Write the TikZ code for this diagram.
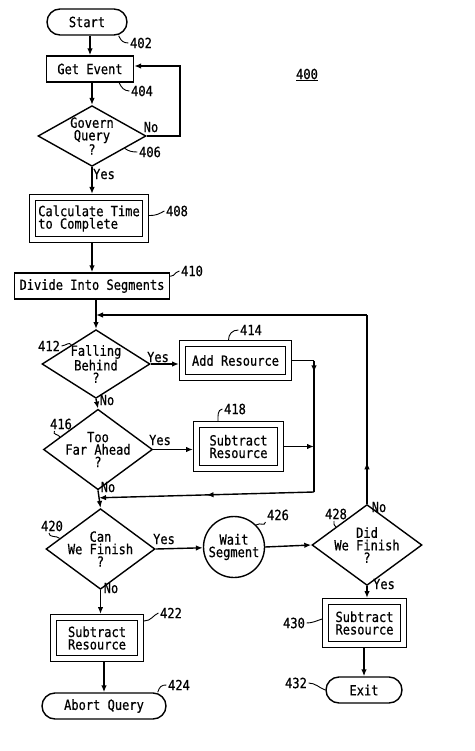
\documentclass[tikz,border=0pt]{standalone}
\usepackage{fontspec}
\setmonofont[FakeStretch=0.86,FakeBold=0.6]{DejaVu Sans Mono}
\usetikzlibrary{shapes.geometric,arrows.meta,decorations.markings,calc}
\begin{document}
\begin{tikzpicture}[x=1pt,y=-1pt, line width=1.4pt,
  every node/.style={font=\ttfamily\fontsize{14}{12.5}\selectfont},
  term/.style={draw, rectangle, rounded corners=13pt, minimum height=26pt, inner sep=0pt},
  box/.style={draw, rectangle, minimum height=26pt, inner sep=0pt},
  dbox/.style={draw, rectangle, double, double distance=5pt, line width=1.2pt, outer sep=3.7pt, inner sep=0pt, align=center},
  dec/.style={draw, diamond, inner sep=-5pt, align=center},
  circ/.style={draw, circle, inner sep=0pt, align=center},
  lbl/.style={inner sep=1pt},
  lead/.style={line width=0.9pt},
  arr/.style={-{Latex[length=7pt,width=5.5pt]}},
  midarrow/.style={postaction={decorate}, decoration={markings, mark=at position #1 with {\arrow{Latex[length=7pt,width=5.5pt]}}}}
]
\useasboundingbox (0,0) rectangle (474,751);

% main nodes
\node[term, minimum width=80pt] (start) at (87,22) {Start};
\node[box, minimum width=87pt] (get) at (90,69) {Get Event};
\node[dec, minimum width=108pt, minimum height=60pt] (govern) at (92,136) {Govern\\Query\\?};
\node[dbox, align=left, minimum width=112.6pt, minimum height=41.6pt] (calc) at (89,218.5) {Calculate Time\\to Complete};
\node[box, minimum width=155pt] (divide) at (92,286) {Divide Into Segments};
\node[dec, minimum width=108pt, minimum height=59pt] (falling) at (96,364) {Falling\\Behind\\?};
\node[dbox, minimum width=105.6pt, minimum height=33.6pt] (add) at (235.5,360.5) {Add Resource};
\node[dec, minimum width=109pt, minimum height=63pt] (toofar) at (98,449.5) {Too\\Far Ahead\\?};
\node[dbox, minimum width=83.6pt, minimum height=43.6pt] (sub418) at (238.5,446.5) {Subtract\\Resource};
\node[dec, minimum width=109pt, minimum height=62pt] (canfinish) at (100.5,549) {Can\\We Finish\\?};
\node[dbox, minimum width=86.6pt, minimum height=40.6pt] (sub422) at (97,638) {Subtract\\Resource};
\node[term, minimum width=124pt] (abort) at (104,706) {Abort Query};
\node[circ, minimum size=61pt] (wait) at (234,547) {Wait\\Segment};
\node[dec, minimum width=110pt, minimum height=62pt] (didfinish) at (367,545) {Did\\We Finish\\?};
\node[dbox, minimum width=77.6pt, minimum height=42.6pt] (sub430) at (364.5,623) {Subtract\\Resource};
\node[term, minimum width=76pt] (exit) at (364,690) {Exit};

% reference numbers
\node[lbl] (l400) at (307,75) {\underline{400}};
\node[lbl] (l402) at (141,43) {402};
\node[lbl] (l404) at (142,91) {404};
\node[lbl] (l406) at (150,152) {406};
\node[lbl] (l408) at (177,211) {408};
\node[lbl] (l410) at (192,271) {410};
\node[lbl] (l412) at (49,346) {412};
\node[lbl] (l414) at (251,330) {414};
\node[lbl] (l416) at (61,424) {416};
\node[lbl] (l418) at (235,409) {418};
\node[lbl] (l420) at (52,526) {420};
\node[lbl] (l422) at (171,613) {422};
\node[lbl] (l424) at (179,685) {424};
\node[lbl] (l426) at (278,515) {426};
\node[lbl] (l428) at (336,514) {428};
\node[lbl] (l430) at (294,623) {430};
\node[lbl] (l432) at (296,683) {432};

% yes / no
\node[lbl] (no406) at (151,127) {No};
\node[lbl] (yes406) at (104,174) {Yes};
\node[lbl] (yes412) at (158,357) {Yes};
\node[lbl] (no412) at (107,400) {No};
\node[lbl] (yes416) at (160,440) {Yes};
\node[lbl] (no416) at (108,487) {No};
\node[lbl] (yes420) at (164,539) {Yes};
\node[lbl] (no420) at (111,588) {No};
\node[lbl] (no428) at (379,507) {No};
\node[lbl] (yes428) at (384,584) {Yes};

% helper coordinates
\coordinate (c1) at (180,136);
\coordinate (j1) at (96,315);
\coordinate (c2) at (367,315);
\coordinate (r1) at (314,360.5);
\coordinate (r2) at (314,492);
\coordinate (j2) at ($(toofar.south)!0.42!(canfinish.north)$);

% connectors
\draw[arr] (start.south -| get.north) -- (get.north);
\draw[arr] (get.south -| govern.north) -- (govern.north);
\draw[arr] (govern.east) -- (c1) |- ($(get.east)+(0,-3)$);
\draw[arr] (govern.south) -- (govern.south |- calc.north);
\draw[arr] (calc.south -| divide.north) -- (divide.north);
\draw[arr] (divide.south -| falling.north) -- (falling.north);
\draw[arr] (falling.east) -- (falling.east -| add.west);
\draw[arr] (falling.south) -- (toofar.north);
\draw[arr] (toofar.east) -- (toofar.east -| sub418.west);
\draw[arr] (toofar.south) -- (canfinish.north);
\draw (add.east) -- (r1);
\draw[midarrow=0.09] (r1) -- (r2);
\draw[arr] (sub418.east) -- (sub418.east -| r1);
\draw[arr, midarrow=0.5] (r2) -- (j2);
\draw[arr] (canfinish.east) -- (wait);
\draw[arr] (canfinish.south) -- (canfinish.south |- sub422.north);
\draw[arr] (sub422.south -| abort.north) -- (abort.north);
\draw[arr] (wait.east) -- (didfinish.west);
\draw[midarrow=0.22] (didfinish.north) -- (c2);
\draw[arr] (c2) -- (j1);
\draw[arr] (didfinish.south) -- (didfinish.south |- sub430.north);
\draw[arr] (sub430.south -| exit.north) -- (exit.north);

% leaders
\draw[lead] ($(start.south east)+(-9,0)$) .. controls +(2,5) and +(-5,0) .. (l402.west);
\draw[lead] ($(get.south east)+(-15,0)$) .. controls +(2,5) and +(-5,0) .. (l404.west);
\draw[lead] ($(govern.east)!0.4!(govern.south)$) .. controls +(4,3) and +(-5,0) .. (l406.west);
\draw[lead] ($(calc.east)+(0,-3)$) .. controls +(8,0) and +(-6,3) .. (l408.west);
\draw[lead] ($(divide.north east)+(0,4)$) .. controls +(6,-1) and +(-6,2) .. (l410.west);
\draw[lead] (l412.east) .. controls +(6,-1) and +(-3,-3) .. ($(falling.west)!0.55!(falling.north)$);
\draw[lead] ($(add.north)+(-7,0)$) .. controls +(0,-6) and +(-6,0) .. (l414.west);
\draw[lead] ($(l416.south west)+(6,0)$) .. controls +(-2,4) and +(-2,-3) .. ($(toofar.west)!0.31!(toofar.north)$);
\draw[lead] ($(sub418.north west)+(25,0)$) .. controls +(0,-6) and +(-5,1) .. (l418.west);
\draw[lead] ($(l420.south)+(-3,0)$) .. controls +(0,5) and +(-3,-3) .. ($(canfinish.west)!0.26!(canfinish.north)$);
\draw[lead] ($(sub422.north east)+(0,7)$) .. controls +(7,0) and +(-5,2) .. (l422.west);
\draw[lead] ($(abort.north east)+(-9,0)$) .. controls +(2,-6) and +(-5,0) .. (l424.west);
\draw[lead] (wait.45) .. controls +(5,-3) and +(-1,5) .. (l426.south west);
\draw[lead] ($(l428.south)+(-2,0)$) .. controls +(0,5) and +(-2,-3) .. ($(didfinish.west)!0.44!(didfinish.north)$);
\draw[lead] (l430.east) .. controls +(6,0) and +(-6,2) .. ($(sub430.west)+(0,-4)$);
\draw[lead] (l432.east) .. controls +(7,0) and +(-6,-2) .. (exit.west);
\end{tikzpicture}
\end{document}
